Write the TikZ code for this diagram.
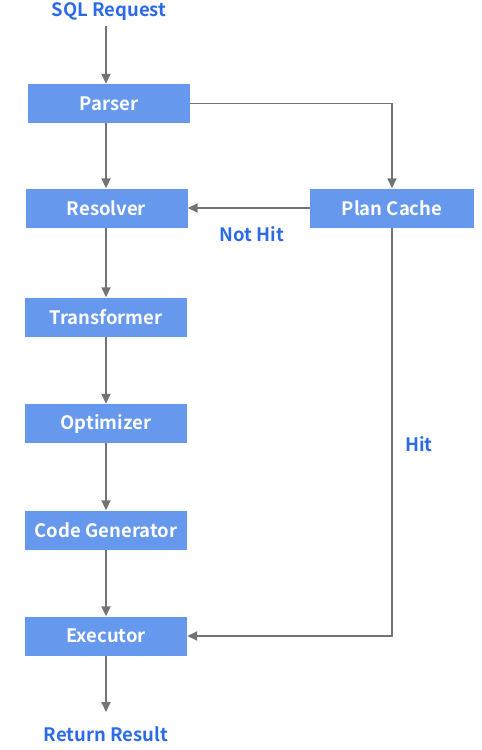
\documentclass[tikz,border=0pt]{standalone}
\usepackage{fontspec}
\setmainfont{Noto Sans CJK SC}[BoldFont={Noto Sans CJK SC Bold}]
\usetikzlibrary{arrows.meta}
\definecolor{boxfill}{HTML}{6699EE}
\definecolor{txtblue}{HTML}{2D6BE6}
\definecolor{linegray}{HTML}{737373}
\begin{document}
\begin{tikzpicture}[x=1pt,y=-1pt,
  stage/.style={fill=boxfill,draw=none,minimum width=162pt,minimum height=39pt,inner sep=0pt,text=white,font=\fontsize{18.5}{20}\selectfont\bfseries},
  lbl/.style={text=txtblue,font=\fontsize{18.5}{20}\selectfont\bfseries,inner sep=0pt},
  conn/.style={draw=linegray,line width=1.8pt,-{Triangle[length=10pt,width=9pt]}}]
\useasboundingbox (0,0) rectangle (482,750);
\node[lbl] (sql) at (109,12) {SQL Request};
\node[stage] (parser) at (109,103.5) {Parser};
\node[stage] (resolver) at (106.5,208) {Resolver};
\node[stage,minimum width=164pt] (cache) at (392,208) {Plan Cache};
\node[stage] (trans) at (106,317) {Transformer};
\node[stage] (opt) at (106,423.5) {Optimizer};
\node[stage] (code) at (106,530) {Code Generator};
\node[stage] (exec) at (106,636) {Executor};
\node[lbl] (ret) at (106,734) {Return Result};
\node[lbl] (nothit) at (252,234) {Not Hit};
\node[lbl] (hit) at (419,444) {Hit};
\coordinate (col) at (106,0);
\coordinate (s0) at (106,26);
\coordinate (c1) at (392,103.5);
\coordinate (c2) at (392,636);
\coordinate (e0) at (106,712);
\draw[conn] (s0) -- (col |- parser.north);
\draw[conn] (col |- parser.south) -- (col |- resolver.north);
\draw[conn] (col |- resolver.south) -- (col |- trans.north);
\draw[conn] (col |- trans.south) -- (col |- opt.north);
\draw[conn] (col |- opt.south) -- (col |- code.north);
\draw[conn] (col |- code.south) -- (col |- exec.north);
\draw[conn] (exec.south) -- (e0);
\draw[conn] (parser.east) -- (c1) -- (cache.north);
\draw[conn] (cache.west) -- (resolver.east);
\draw[conn] (cache.south) -- (c2) -- (exec.east);
\end{tikzpicture}
\end{document}
